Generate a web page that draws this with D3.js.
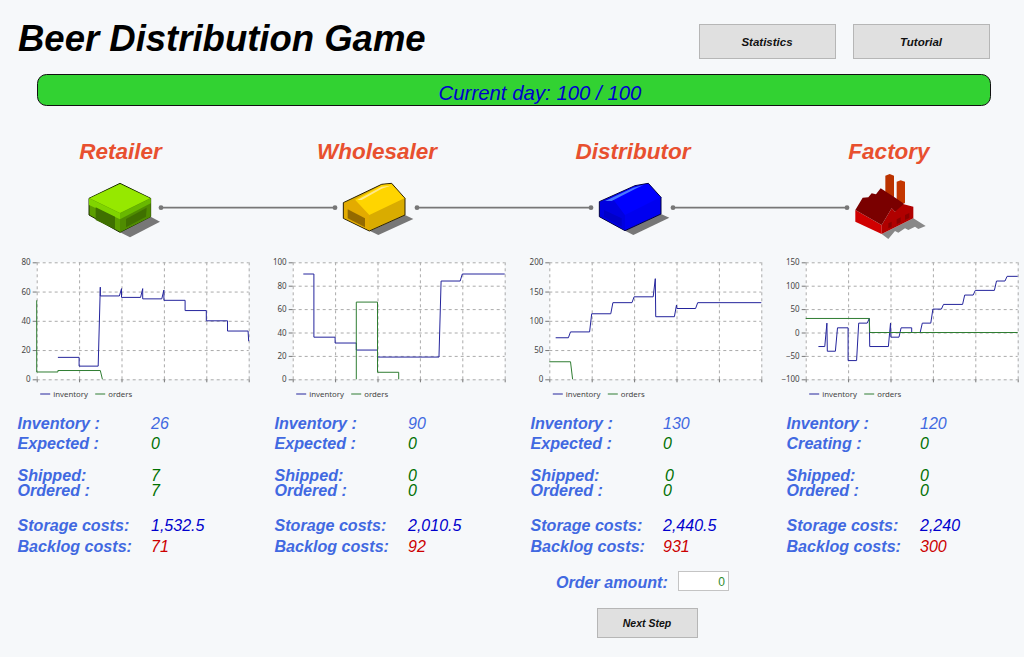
<!DOCTYPE html>
<html>
<head>
<meta charset="utf-8">
<title>Beer Distribution Game</title>
<style>
body { margin: 0; background: #f6f8fa; }
svg { display: block; font-family: "Liberation Sans", Arial, sans-serif; font-style: italic; }
.lbl { font-size: 16.1px; font-weight: bold; fill: #4169e1; }
.val { font-size: 16px; }
.axis text { font-family: "Noto Sans", sans-serif; font-style: normal; font-size: 8px; fill: #444; }
.axis path { display: none; }
.axis line { stroke: #777; }
.grid line { stroke: #aaa; stroke-dasharray: 3,3; }
.grid path { display: none; }
.legend { font-family: "Noto Sans", sans-serif; font-style: normal; font-size: 7.8px; fill: #444; }
</style>
</head>
<body>
<svg id="game" width="1024" height="657"></svg>

<script src="https://d3js.org/d3.v7.min.js"></script>
<script>
// [day, value]
const retailerInventory = [[10,15],[20,15],[20,9],[29,9],[30,63],[30,57],[39,57],[40,62],[40,56],[49,56],[50,62],[50,55],[59,55],[60,61],[60,54],[70,54],[70,47],[80,47],[80,40],[90,40],[90,33],[99.7,33],[100,26]];
const retailerOrders = [[0,54],[0,5],[10,5],[10,6],[30,6],[31,0]];
const wholesalerInventory = [[5,90],[10,90],[10,36],[20,36],[20,31],[30,31],[30,25],[40,25],[40,19],[69,19],[70,84],[79,84],[80,90],[100,90]];
const wholesalerOrders = [[30,0],[30,66],[40,66],[40,6],[50,6],[50,0]];
const distributorInventory = [[3,71],[9,71],[10,81],[19,81],[20,112],[29,112],[30,131],[39,131],[40,141],[49,141],[50,172],[50.2,107],[59,107],[60,127],[60.2,121],[69,121],[70,131],[100,131]];
const distributorOrders = [[0,30],[10,30],[11,0]];
const factoryInventory = [[6,-30],[9,-30],[10,20],[10.2,-40],[14,-40],[15,10],[20,10],[20,-60],[24,-60],[25,20],[29,20],[30,30],[30.2,-30],[39,-30],[40,20],[40.2,-10],[44,-10],[45,10],[50,10],[50,0],[54,0],[55,20],[59,20],[60,50],[64,50],[65,60],[74,60],[75,80],[79,80],[80,90],[89,90],[90,110],[94,110],[95,120],[100,120]];
const factoryOrders = [[0,30],[30,30],[30.2,0],[100,0]];

const roles = ["Retailer", "Wholesaler", "Distributor", "Factory"];
const inventories = [26, 90, 130, 120];
const expected = [0, 0, 0, 0];
const shipped = [7, 0, 0, 0];
const ordered = [7, 0, 0, 0];
const storageCosts = ["1,532.5", "2,010.5", "2,440.5", "2,240"];
const backlogCosts = [71, 92, 931, 300];
const expectedLabels = ["Expected :", "Expected :", "Expected :", "Creating :"];
const yDomains = [[0, 80], [0, 100], [0, 200], [-100, 150]];
const yTicks = [[0,20,40,60,80], [0,20,40,60,80,100], [0,50,100,150,200], [-100,-50,0,50,100,150]];
const dayTicks = [0, 20, 40, 60, 80, 100];

const inventorySeries = [retailerInventory, wholesalerInventory, distributorInventory, factoryInventory];
const orderSeries = [retailerOrders, wholesalerOrders, distributorOrders, factoryOrders];

// layout
const chartLeft = [36.7, 292.7, 549.3, 805.7];
const chartW = 212, chartTop = 262.3, chartBottom = 379.3;
const labelX = [17.5, 274.5, 530.5, 786.5];
const valueX = [151, 408, 663, 920];
const shippedShift = [0, 0, 2, 0];
const headerX = [120.5, 377, 633, 889];

const svg = d3.select("#game");

function txt(x, y, s, size, weight, fill, anchor) {
  return svg.append("text").attr("x", x).attr("y", y).text(s)
    .attr("font-size", size).attr("font-weight", weight).attr("fill", fill)
    .attr("text-anchor", anchor || "start");
}

function button(x, y, w, h, s, size) {
  svg.append("rect").attr("x", x + .5).attr("y", y + .5).attr("width", w).attr("height", h)
    .attr("fill", "#e0e0e0").attr("stroke", "#b6b6b6");
  txt(x + w / 2, y + h / 2 + 4.5, s, size, "bold", "#111", "middle");
}

// header
txt(18, 51, "Beer Distribution Game", 36.5, "bold", "#000");
button(699, 24, 136, 34, "Statistics", 11.5);
button(853, 24, 136, 34, "Tutorial", 11.5);

svg.append("rect").attr("x", 37.5).attr("y", 74.5).attr("width", 953).attr("height", 31).attr("rx", 9)
  .attr("fill", "#32d232").attr("stroke", "#111");
txt(540, 99.5, "Current day: 100 / 100", 20.4, "normal", "#0000cd", "middle");

roles.forEach((r, i) => txt(headerX[i], 159, r, 22.5, "bold", "#e8502f", "middle"));

// connectors
[[161, 335], [417, 591], [673, 847]].forEach(([a, b]) => {
  svg.append("line").attr("x1", a).attr("x2", b).attr("y1", 207.7).attr("y2", 207.7)
    .attr("stroke", "#777").attr("stroke-width", 1.8);
  [a, b].forEach(c => svg.append("circle").attr("cx", c).attr("cy", 207.7).attr("r", 2.4).attr("fill", "#777"));
});

// building icons, drawn at 3x
function icon(dx, dy, shapes) {
  const g = svg.append("g").attr("transform", `translate(${dx},${dy}) scale(${1 / 3})`);
  shapes.forEach(([pts, fill, stroke]) => g.append("polygon").attr("points", pts).attr("fill", fill)
    .attr("stroke", stroke || "none").attr("stroke-width", 3).attr("stroke-linejoin", "round"));
}
icon(70, 170, [
  ["150,187 242,140 270,155 180,202 150,187", "#777"],
  ["150,40 242,85 242,140 150,187 57,135 57,85", "#5c9e00", "#1c3000"],
  ["150,130 242,85 242,140 150,187", "#4f8c00"],
  ["57,85 150,130 150,148 57,105", "#80d400"],
  ["150,130 242,85 242,100 150,148", "#69b800"],
  ["77,112 135,140 135,178 77,150", "#3f7000"],
  ["168,147 230,113 228,140 168,172", "#3f7000"],
  ["150,42 240,85 150,129 59,85", "#96e800"]
]);
icon(70, 170, [
  ["900,183 1005,135 1030,147 925,195", "#777"],
  ["820,98 935,43 965,40 1005,85 1005,135 898,183 820,145", "#d9ac00", "#2a2000"],
  ["822,99 855,89 898,127 898,181 822,144", "#e3ab00"],
  ["855,89 935,45 964,42 1003,85 898,135", "#ffd500"],
  ["833,118 885,145 885,172 833,145", "#946a00"],
  ["862,90 935,50 962,47 935,56 875,90", "#ffe98a"]
]);
icon(580, 165, [
  ["135,197 243,147 268,158 160,210", "#777"],
  ["58,110 165,62 205,55 243,97 243,147 135,197 58,155", "#0000f0", "#000040"],
  ["60,111 95,97 135,150 135,195 60,154", "#0000e0"],
  ["95,97 165,64 204,57 241,97 135,150", "#0000ff"],
  ["75,108 160,68 190,60 165,72 95,108", "#4a78ff"],
  ["72,135 125,160 125,185 72,155", "#0000c8"]
]);
icon(580, 165, [
  ["905,207 1000,160 1037,183 1015,192 1005,185 985,195 975,190 955,203 945,198 925,222", "#888"],
  ["916,32 929,27 942,32 942,105 916,105", "#bb3300"],
  ["950,50 962,46 975,50 975,115 950,115", "#c43700"],
  ["826,135 905,180 905,207 826,170", "#d00000"],
  ["905,180 935,130 945,140 960,115 1000,125 1000,160 905,207", "#b00000"],
  ["826,135 848,98 865,97 875,85 888,88 902,70 948,100 972,116 945,140 935,130 905,180", "#7a0000"],
  ["925,175 935,170 935,185 925,190", "#8a0000"],
  ["950,163 962,157 962,172 950,178", "#8a0000"],
  ["975,150 988,144 988,159 975,165", "#8a0000"]
]);

// charts
roles.forEach((r, i) => {
  const x = d3.scaleLinear().domain([0, 100]).range([chartLeft[i], chartLeft[i] + chartW]);
  const y = d3.scaleLinear().domain(yDomains[i]).range([chartBottom, chartTop]);

  svg.append("rect").attr("x", x(0)).attr("y", chartTop).attr("width", chartW).attr("height", chartBottom - chartTop)
    .attr("fill", "#fff");

  svg.append("g").attr("class", "grid").attr("transform", `translate(${x(0)},0)`)
    .call(d3.axisLeft(y).tickValues(yTicks[i]).tickSize(-chartW).tickFormat(""));
  svg.append("g").attr("class", "grid").attr("transform", `translate(0,${chartBottom})`)
    .call(d3.axisBottom(x).tickValues(dayTicks).tickSize(-(chartBottom - chartTop)).tickFormat(""));

  svg.append("g").attr("class", "axis").attr("transform", `translate(${x(0)},0)`)
    .call(d3.axisLeft(y).tickValues(yTicks[i]).tickSize(4).tickPadding(2));
  svg.append("g").attr("class", "axis").attr("transform", `translate(0,${chartBottom})`)
    .call(d3.axisBottom(x).tickValues(dayTicks).tickSize(3).tickFormat(""));

  const line = d3.line().x(d => x(d[0])).y(d => y(d[1]));
  svg.append("path").datum(inventorySeries[i]).attr("fill", "none").attr("stroke", "#24249c").attr("d", line);
  svg.append("path").datum(orderSeries[i]).attr("fill", "none").attr("stroke", "#2f7d32").attr("d", line);

  // legend
  const lx = x(0) + 3.5;
  svg.append("line").attr("x1", lx).attr("x2", lx + 10).attr("y1", 394).attr("y2", 394).attr("stroke", "#24249c");
  svg.append("text").attr("class", "legend").attr("x", lx + 13).attr("y", 397).text("inventory");
  svg.append("line").attr("x1", lx + 55).attr("x2", lx + 65).attr("y1", 394).attr("y2", 394).attr("stroke", "#2f7d32");
  svg.append("text").attr("class", "legend").attr("x", lx + 68).attr("y", 397).text("orders");

  // stats
  const rows = [
    ["Inventory :", inventories[i], 429, "#4169e1", 0],
    [expectedLabels[i], expected[i], 449, "#007000", 0],
    ["Shipped:", shipped[i], 481, "#007000", shippedShift[i]],
    ["Ordered :", ordered[i], 496, "#007000", 0],
    ["Storage costs:", storageCosts[i], 531, "#0000cd", 0],
    ["Backlog costs:", backlogCosts[i], 552, "#cc0000", 0]
  ];
  rows.forEach(([l, v, by, c, dx]) => {
    svg.append("text").attr("class", "lbl").attr("x", labelX[i]).attr("y", by).text(l);
    svg.append("text").attr("class", "val").attr("x", valueX[i] + dx).attr("y", by).attr("fill", c).text(v);
  });
});

// order entry
svg.append("text").attr("class", "lbl").attr("x", 556).attr("y", 588).text("Order amount:");
svg.append("rect").attr("x", 678.5).attr("y", 571.5).attr("width", 50).attr("height", 19)
  .attr("fill", "#fff").attr("stroke", "#c4c4c4");
svg.append("text").attr("x", 725).attr("y", 586).attr("text-anchor", "end").attr("font-size", 12)
  .attr("font-style", "normal").attr("fill", "#2e8b2e").text("0");
button(597, 608, 100, 29, "Next Step", 10.5);
</script>
</body>
</html>
